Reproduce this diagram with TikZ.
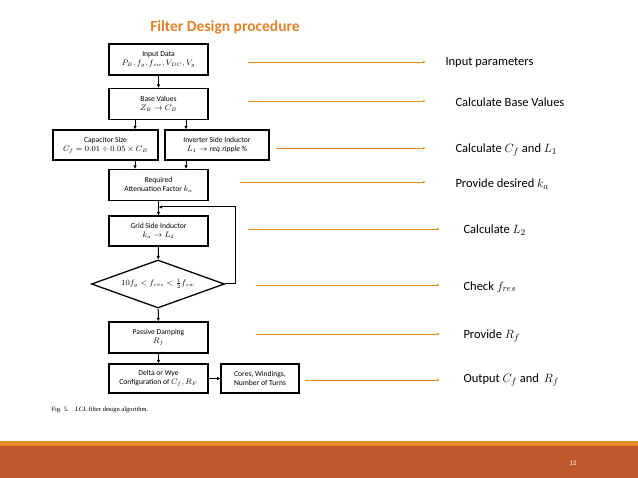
\documentclass[tikz,border=0pt]{standalone}
\usepackage{fontspec}
\setmainfont{Carlito}
\newfontfamily\capfont{Liberation Serif}
\usetikzlibrary{arrows.meta,shapes.geometric}
\definecolor{org}{RGB}{232,140,40}
\definecolor{rust}{RGB}{190,88,44}
\definecolor{titleorg}{RGB}{226,130,40}
\tikzset{x=1pt,y=-1pt,
 box/.style={draw,line width=1.3pt,minimum width=99pt,minimum height=31pt,align=center,font=\fontsize{7.6}{9}\selectfont,inner sep=1pt},
 flow/.style={line width=1pt,-{Latex[length=3.5pt,width=3.5pt]}},
 oarr/.style={org,line width=0.8pt,-{Latex[length=3pt,width=2.5pt]}},
 lbl/.style={anchor=west,font=\fontsize{12.5}{14}\selectfont}}
\begin{document}
\begin{tikzpicture}
\useasboundingbox (0,0) rectangle (638,478);
\fill[rust] (0,446) rectangle (638,478);
\fill[org] (0,441) rectangle (638,446);
\node[white,font=\fontsize{7}{8}\selectfont] (pg) at (573,463) {12};
\node[titleorg,font=\bfseries\fontsize{15.5}{17}\selectfont] (title) at (225,27) {Filter Design procedure};
\node[box] (in) at (158.5,59.5) {Input Data\\ $P_B,f_g,f_{sw},V_{DC},V_g$};
\node[box] (base) at (158.5,104) {Base Values\\ $Z_B\rightarrow C_B$};
\node[box,minimum width=105pt,minimum height=30pt] (cap) at (105.5,145) {Capacitor Size\\ $C_f=0.01\div0.05\times C_B$};
\node[box,minimum width=104pt,minimum height=30pt] (inv) at (217,145) {Inverter Side Inductor\\ $L_1\rightarrow \mathit{req.ripple}$ \%};
\node[box] (req) at (158.5,185) {Required\\ Attenuation Factor $k_a$};
\node[box,minimum height=30pt] (grid) at (158.5,231) {Grid Side Inductor\\ $k_a\rightarrow L_2$};
\node[draw,line width=1.3pt,diamond,aspect=2.8,minimum width=133pt,minimum height=48pt,inner sep=0pt,font=\fontsize{7.6}{9}\selectfont] (chk) at (158,284) {$10f_g<f_{res}<\frac{1}{2}f_{sw}$};
\node[box] (pd) at (158.5,337.5) {Passive Damping\\ $R_f$};
\node[box,minimum height=29pt] (dw) at (158.5,378.5) {Delta or Wye\\ Configuration of $C_f,R_F$};
\node[box,minimum width=78pt,minimum height=29pt] (core) at (260,378.5) {Cores, Windings,\\ Number of Turns};
\node[anchor=west,font=\capfont\fontsize{6.5}{7}\selectfont] (cap5) at (48,410) {Fig. 5.\quad \textit{LCL} filter design algorithm.};
\draw[flow] (in) -- (base);
\draw[flow] (base.south -| 135,0) -- (cap.north -| 135,0);
\draw[flow] (base.south -| 186,0) -- (inv.north -| 186,0);
\draw[flow] (cap.south -| 135,0) -- (req.north -| 135,0);
\draw[flow] (inv.south -| 186,0) -- (req.north -| 186,0);
\draw[flow] (req) -- (grid);
\coordinate (fb) at (158.5,207);
\draw[flow] (chk.east) -| (235,207) -- (fb);
\draw[flow] (grid) -- (chk);
\draw[flow] (chk) -- (pd);
\draw[flow] (pd) -- (dw);
\draw[flow] (dw) -- (core);
\node[lbl] (t1) at (442,63) {Input parameters};
\node[lbl] (t2) at (452,102) {Calculate Base Values};
\node[lbl] (t3) at (452,150) {Calculate $C_f$ and $L_1$};
\node[lbl] (t4) at (452,184) {Provide desired $k_a$};
\node[lbl] (t5) at (460,230) {Calculate $L_2$};
\node[lbl] (t6) at (460,287) {Check $f_{res}$};
\node[lbl] (t7) at (460,336) {Provide $R_f$};
\node[lbl] (t8) at (460,380) {Output $C_f$ and\, $R_f$};
\coordinate (s1) at (248,62); \draw[oarr] (s1) -- (426,62);
\coordinate (s2) at (248,101); \draw[oarr] (s2) -- (426,101);
\coordinate (s3) at (276,148); \draw[oarr] (s3) -- (426,148);
\coordinate (s4) at (240,182); \draw[oarr] (s4) -- (426,182);
\coordinate (s5) at (248,229); \draw[oarr] (s5) -- (440,229);
\coordinate (s6) at (256,285); \draw[oarr] (s6) -- (440,285);
\coordinate (s7) at (256,334); \draw[oarr] (s7) -- (440,334);
\coordinate (s8) at (305,380); \draw[oarr] (s8) -- (440,380);
\end{tikzpicture}
\end{document}
